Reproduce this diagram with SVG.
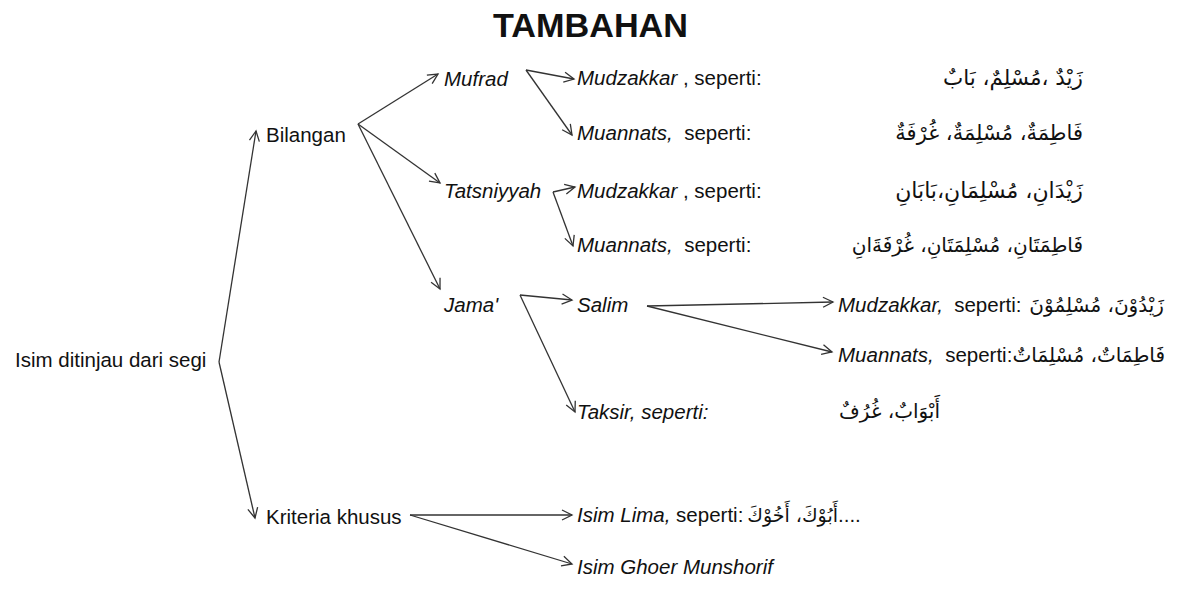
<svg xmlns="http://www.w3.org/2000/svg" width="1179" height="603" viewBox="0 0 1179 603">
<style>
text{font-family:"Liberation Sans",Arial,sans-serif;font-size:20.5px;fill:#111}
.i{font-style:italic}
.ar{font-family:"DejaVu Sans","Noto Sans",sans-serif;font-size:20px}
.title{font-weight:bold;font-size:34px}
.c line{stroke:#333;stroke-width:1.3;fill:none;marker-end:url(#a)}
</style>
<defs>
<marker id="a" markerUnits="userSpaceOnUse" markerWidth="14" markerHeight="14" refX="11" refY="6" orient="auto" viewBox="0 0 14 12">
<path d="M1,1 L11,6 L1,11" fill="none" stroke="#333" stroke-width="1.3"/>
</marker>
</defs>
<rect width="1179" height="603" fill="#fff"/>
<text class="title" x="493" y="37" textLength="195" lengthAdjust="spacingAndGlyphs">TAMBAHAN</text>
<g class="c" id="connectors">
<line x1="219" y1="362" x2="256" y2="131"/>
<line x1="219" y1="362" x2="255" y2="518"/>
<line x1="358" y1="124" x2="438" y2="74"/>
<line x1="358" y1="124" x2="440" y2="183"/>
<line x1="358" y1="124" x2="440" y2="289"/>
<line x1="526" y1="70" x2="574" y2="79"/>
<line x1="526" y1="70" x2="572" y2="135"/>
<line x1="553" y1="192" x2="575" y2="187"/>
<line x1="553" y1="192" x2="573" y2="246"/>
<line x1="520" y1="295" x2="572" y2="300"/>
<line x1="520" y1="295" x2="575" y2="412"/>
<line x1="647" y1="306" x2="833" y2="302"/>
<line x1="647" y1="306" x2="832" y2="352"/>
<line x1="410" y1="515" x2="572" y2="515"/>
<line x1="410" y1="515" x2="572" y2="564"/>
</g>
<g id="isim"><text x="15" y="367">Isim ditinjau dari segi</text></g>
<g id="bilangan"><text x="266" y="142">Bilangan</text></g>
<g id="kriteria"><text x="266" y="524">Kriteria khusus</text></g>
<g id="mufrad"><text class="i" x="444" y="86">Mufrad</text></g>
<g id="tatsniyyah"><text class="i" x="444" y="198">Tatsniyyah</text></g>
<g id="jama"><text class="i" x="444" y="312">Jama'</text></g>
<g id="mufrad-mudzakkar"><text x="577" y="85"><tspan class="i">Mudzakkar</tspan> , seperti:</text>
<text class="ar" x="1083" y="85" text-anchor="end" style="font-size:21.5px">زَيْدٌ ،مُسْلِمٌ، بَابٌ</text></g>
<g id="mufrad-muannats"><text x="577" y="140" xml:space="preserve"><tspan class="i">Muannats,</tspan>  seperti:</text>
<text class="ar" x="1083" y="140" text-anchor="end" style="font-size:21px">فَاطِمَةٌ، مُسْلِمَةٌ، غُرْفَةٌ</text></g>
<g id="tatsniyyah-mudzakkar"><text x="577" y="198"><tspan class="i">Mudzakkar</tspan> , seperti:</text>
<text class="ar" x="1083" y="198" text-anchor="end" style="font-size:22px">زَيْدَانِ، مُسْلِمَانِ،بَابَانِ</text></g>
<g id="tatsniyyah-muannats"><text x="577" y="252" xml:space="preserve"><tspan class="i">Muannats,</tspan>  seperti:</text>
<text class="ar" x="1083" y="252" text-anchor="end">فَاطِمَتَانِ، مُسْلِمَتَانِ، غُرْفَةَانِ</text></g>
<g id="salim"><text class="i" x="577" y="312">Salim</text></g>
<g id="taksir"><text class="i" x="577" y="419">Taksir, seperti:</text>
<text class="ar" x="940" y="418" text-anchor="end">أَبْوَابٌ، غُرُفٌ</text></g>
<g id="salim-mudzakkar"><text x="838" y="312" xml:space="preserve"><tspan class="i">Mudzakkar,</tspan>  seperti:</text>
<text class="ar" x="1164" y="312" text-anchor="end">زَيْدُوْنَ، مُسْلِمُوْنَ</text></g>
<g id="salim-muannats"><text x="838" y="362" xml:space="preserve"><tspan class="i">Muannats,</tspan>  seperti:</text>
<text class="ar" x="1165" y="362" text-anchor="end">فَاطِمَاتٌ، مُسْلِمَاتٌ</text></g>
<g id="isim-lima"><text x="577" y="522"><tspan class="i">Isim Lima,</tspan> seperti:</text>
<text class="ar" x="838" y="522" text-anchor="end" style="font-size:19px">أَبُوْكَ، أَخُوْكَ</text>
<text x="838" y="522">....</text></g>
<g id="isim-ghoer"><text class="i" x="577" y="574">Isim Ghoer Munshorif</text></g>
</svg>
